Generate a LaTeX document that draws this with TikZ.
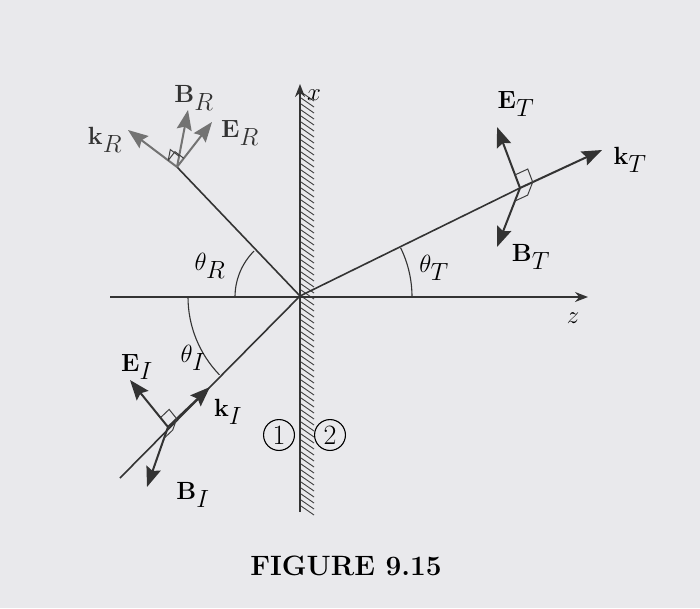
\documentclass[tikz,border=0pt]{standalone}
\usetikzlibrary{arrows.meta,calc}
\begin{document}
\begin{tikzpicture}[x=1pt,y=-1pt,
  ln/.style={draw=black!80,line width=1.6pt},
  vec/.style={draw=black!80,line width=2pt,-{Stealth[length=20pt,width=15pt,inset=3pt]}},
  gvec/.style={draw=black!55,line width=2pt,-{Stealth[length=20pt,width=15pt,inset=3pt]}},
  sq/.style={draw=black!75,line width=1pt},
  lab/.style={font=\fontsize{33}{36}\selectfont},
  circ/.style={draw,circle,line width=1.1pt,inner sep=3pt,font=\fontsize{28}{30}\selectfont}]
\fill[blue!7!gray!16] (0,0) rectangle (700,608);
\useasboundingbox (0,0) rectangle (700,608);
\coordinate (O) at (300,296);
% hatching
\foreach \y in {92,98,...,508} \draw[black!75,line width=0.9pt] (301,\y) -- (314,\y+9);
\draw[ln,line width=2pt,-{Stealth[length=13pt,width=10pt]}] (300,512) -- (300,84) coordinate (xt);
\node[lab,font=\fontsize{28}{30}\selectfont] (xl) at (314,95) {$x$};
\draw[ln,-{Stealth[length=13pt,width=10pt]}] (110,297) -- (588,297) coordinate (zt);
\node[lab,font=\fontsize{28}{30}\selectfont] (zl) at (573,318) {$z$};
% incident
\coordinate (I0) at (120,478);
\coordinate (PI) at (168,427);
\draw[ln] (I0) -- (O);
\draw[vec] (PI) -- (210,387) coordinate (kI);
\draw[vec] (PI) -- (130,380) coordinate (EIt);
\draw[vec] (PI) -- (147,487) coordinate (BIt);
\draw[sq] ($(PI)!12pt!(EIt)$) -- ($(PI)!12pt!(EIt)+(PI)!12pt!(kI)-(PI)$) -- ($(PI)!12pt!(kI)$);
\draw[sq] ($(PI)!12pt!(BIt)$) -- ($(PI)!12pt!(BIt)+(PI)!12pt!(kI)-(PI)$) -- ($(PI)!12pt!(kI)$);
\node[lab] (EI) at (137,367) {$\mathbf{E}_I$};
\node[lab] (BI) at (193,495) {$\mathbf{B}_I$};
\node[lab] (kIl) at (228,412) {$\mathbf{k}_I$};
% reflected
\coordinate (PR) at (177,167);
\draw[ln] (O) -- (PR);
\draw[gvec] (PR) -- (128,130) coordinate (kR);
\draw[gvec] (PR) -- (212,122) coordinate (ERt);
\draw[gvec] (PR) -- (188,110) coordinate (BRt);
\draw[sq] ($(PR)!11pt!(BRt)$) -- ($(PR)!11pt!(BRt)+(PR)!11pt!(kR)-(PR)$) -- ($(PR)!11pt!(kR)$);
\draw[sq] ($(PR)!11pt!(ERt)$) -- ($(PR)!11pt!(ERt)+(PR)!11pt!(kR)-(PR)$) -- ($(PR)!11pt!(kR)$);
\node[lab,text=black!80] (kRl) at (105,140) {$\mathbf{k}_R$};
\node[lab,text=black!80] (ERl) at (240,133) {$\mathbf{E}_R$};
\node[lab,text=black!80] (BRl) at (194,98) {$\mathbf{B}_R$};
% transmitted
\coordinate (PT) at (520,188);
\draw[ln] (O) -- (PT);
\draw[vec] (PT) -- (602,150) coordinate (kT);
\draw[vec] (PT) -- (497,127) coordinate (ETt);
\draw[vec] (PT) -- (497,247) coordinate (BTt);
\draw[sq] ($(PT)!14pt!(ETt)$) -- ($(PT)!14pt!(ETt)+(PT)!14pt!(kT)-(PT)$) -- ($(PT)!14pt!(kT)$);
\draw[sq] ($(PT)!14pt!(BTt)$) -- ($(PT)!14pt!(BTt)+(PT)!14pt!(kT)-(PT)$) -- ($(PT)!14pt!(kT)$);
\node[lab] (kTl) at (630,160) {$\mathbf{k}_T$};
\node[lab] (ETl) at (516,104) {$\mathbf{E}_T$};
\node[lab] (BTl) at (531,257) {$\mathbf{B}_T$};
% angles
\draw[black!80,line width=1.1pt] (188,297) arc (180:136:112);
\draw[black!80,line width=1.1pt] (235,297) arc (180:225:65);
\draw[black!80,line width=1.1pt] (412,297) arc (0:-26:112);
\node[lab] (tR) at (210,266) {$\theta_R$};
\node[lab] (tT) at (434,268) {$\theta_T$};
\node[lab] (tI) at (193,358) {$\theta_I$};
\node[circ] (c1) at (279,435) {1};
\node[circ] (c2) at (330,435) {2};
\node[font=\fontsize{28}{30}\selectfont\bfseries] (fig) at (346,566) {FIGURE 9.15};
\end{tikzpicture}
\end{document}
